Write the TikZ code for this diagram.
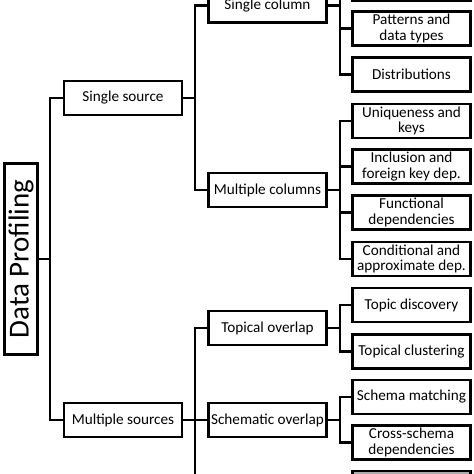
\documentclass[tikz,border=0pt]{standalone}
\usepackage{fontspec}
\setmainfont{Carlito}
\begin{document}
\begin{tikzpicture}[x=1pt,y=-1pt,
  box/.style={draw=black, line width=2.7pt, fill=white, minimum width=118pt, minimum height=34pt,
    inner sep=1pt, align=center, font=\fontsize{15.2}{15.6}\selectfont},
  graybox/.style={box, fill=black!33},
  conn/.style={line width=2.7pt, line join=miter}]
\useasboundingbox (0,0) rectangle (474,474);
\clip (0,0) rectangle (474,474);
% root
\node[draw=black, line width=2.7pt, fill=white, rotate=90, minimum width=191pt, minimum height=33pt,
  inner sep=0pt, font=\fontsize{29}{30}\selectfont] (dp) at (21,259) {Data Profiling};
% level 1
\node[box] (ss) at (123,98) {Single source};
\node[box] (ms) at (123,420) {Multiple sources};
% level 2
\node[box] (sc) at (267.5,5.5) {Single column};
\node[box] (mc) at (267.5,190) {Multiple columns};
\node[box] (to) at (267.5,328) {Topical overlap};
\node[box] (so) at (267.5,420) {Schematic overlap};
% level 3
\node[box] (r0) at (411.5,-16) {};
\node[box] (pat) at (411.5,28.5) {Patterns and\\data types};
\node[box] (dist) at (411.5,74.5) {Distributions};
\node[box] (uniq) at (411.5,121) {Uniqueness and\\keys};
\node[box] (incl) at (411.5,166.5) {Inclusion and\\foreign key dep.};
\node[box] (func) at (411.5,212.5) {Functional\\dependencies};
\node[box] (cond) at (411.5,259) {Conditional and\\approximate dep.};
\node[box] (td) at (411.5,305) {Topic discovery};
\node[box] (tc) at (411.5,351.5) {Topical clustering};
\node[box] (sm) at (411.5,397) {Schema matching};
\node[box] (cs) at (411.5,442.5) {Cross-schema\\dependencies};
\node[graybox] (gb) at (411.5,488) {};
% bracket positions
\coordinate (jL) at (50,259);
\coordinate (jM) at (195,259);
\coordinate (jR) at (340,259);
\coordinate (bot) at (195,490);
% root connectors
\draw[conn] (dp) -- (jL);
\draw[conn] (ss.west) -| (ms.west -| jL) -- (ms.west);
% single source
\draw[conn] (ss.east) -- (ss.east -| jM);
\draw[conn] (sc.west) -| (mc.west -| jM) -- (mc.west);
% multiple sources
\draw[conn] (ms.east) -- (ms.east -| jM);
\draw[conn] (to.west) -| (bot);
\draw[conn] (so.west) -- (so.west -| jM);
% single column
\draw[conn] (sc.east) -- (sc.east -| jR);
\draw[conn] (r0.west) -| (dist.west -| jR) -- (dist.west);
\draw[conn] (pat.west) -- (pat.west -| jR);
% multiple columns
\draw[conn] (mc.east) -- (mc.east -| jR);
\draw[conn] (uniq.west) -| (cond.west -| jR) -- (cond.west);
\draw[conn] (incl.west) -- (incl.west -| jR);
\draw[conn] (func.west) -- (func.west -| jR);
% topical overlap
\draw[conn] (to.east) -- (to.east -| jR);
\draw[conn] (td.west) -| (tc.west -| jR) -- (tc.west);
% schematic overlap
\draw[conn] (so.east) -- (so.east -| jR);
\draw[conn] (sm.west) -| (cs.west -| jR) -- (cs.west);
\end{tikzpicture}
\end{document}
